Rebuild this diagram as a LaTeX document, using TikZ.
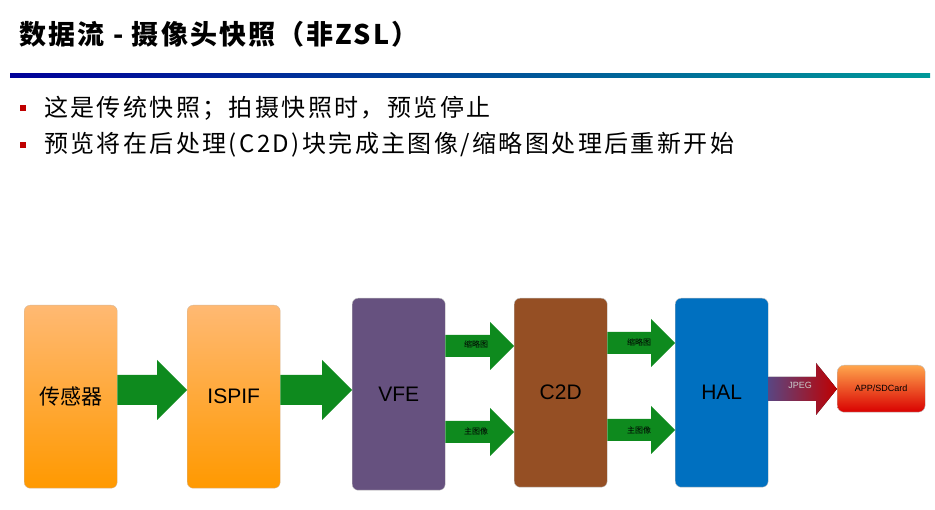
\documentclass[tikz,border=0pt]{standalone}
\usepackage{fontspec}
\setmainfont{Liberation Sans}
\newfontfamily\cjk{Noto Sans CJK SC}
\newfontfamily\cjkw[LetterSpace=10]{Noto Sans CJK SC}
\newfontfamily\cjkt[LetterSpace=8]{Noto Sans CJK SC}
\usetikzlibrary{calc}
\definecolor{grn}{HTML}{0E8A1E}
\tikzset{
 blk/.style={rounded corners=6pt,minimum width=93pt,anchor=north west,inner sep=0pt,font=\fontsize{21}{21}\selectfont},
 lbl/.style={font=\cjk\fontsize{8}{8}\selectfont,inner sep=0pt},
 bul/.style={anchor=west,font=\cjkw\fontsize{24}{24}\selectfont,inner sep=0pt},
}
\newcommand{\garrow}[7]{% from to y shafthalf headhalf headlen color-spec
 \fill[#7] ($(#1.east |- 0,#3)+(0,#4)$) -- ($(#2.west |- 0,#3)+(-#6,#4)$) -- ($(#2.west |- 0,#3)+(-#6,#5)$) -- (#2.west |- 0,#3) -- ($(#2.west |- 0,#3)+(-#6,-#5)$) -- ($(#2.west |- 0,#3)+(-#6,-#4)$) -- ($(#1.east |- 0,#3)+(0,-#4)$) -- cycle;}
\begin{document}
\begin{tikzpicture}[x=1pt,y=-1pt]
\useasboundingbox (0,0) rectangle (935,510);
\node[anchor=west,font=\cjkt\bfseries\fontsize{27}{27}\selectfont] (title) at (16,34) {数据流 - 摄像头快照（非ZSL）};
\shade[left color=blue!60!black,right color=teal!80!cyan] (10,74) rectangle (930,78);
\fill[red!75!black] (20,105) rectangle (26,111);
\node[bul] (b1) at (44,108) {这是传统快照；拍摄快照时，预览停止};
\fill[red!75!black] (20,142) rectangle (26,148);
\node[bul] (b2) at (44,145) {预览将在后处理(C2D)块完成主图像/缩略图处理后重新开始};
\node[blk,minimum height=183pt,top color=orange!55,bottom color=orange!80!yellow,draw=orange!60!black!40] (s) at (24,305) {\cjk 传感器};
\node[blk,minimum height=183pt,top color=orange!55,bottom color=orange!80!yellow,draw=orange!60!black!40] (i) at (187,305) {ISPIF};
\node[blk,minimum height=192pt,fill={rgb,255:red,102;green,81;blue,127},draw=gray!50] (v) at (352,298) {VFE};
\node[blk,minimum height=189pt,fill={rgb,255:red,149;green,79;blue,36},draw=gray!50] (c) at (514,298) {C2D};
\node[blk,minimum height=189pt,fill={rgb,255:red,0;green,112;blue,192},draw=gray!50] (h) at (675,298) {HAL};
\node[rounded corners=7pt,minimum width=88pt,minimum height=47pt,anchor=north west,top color=orange!70,bottom color=red!85!black,draw=gray!50,font=\fontsize{9}{9}\selectfont] (a) at (837,365) {APP/SDCard};
\garrow{s}{i}{390}{15}{30}{30}{grn}
\garrow{i}{v}{390}{15}{30}{30}{grn}
\garrow{v}{c}{346}{11}{24}{24}{grn}
\garrow{v}{c}{432}{11}{24}{24}{grn}
\garrow{c}{h}{343}{11}{24}{24}{grn}
\garrow{c}{h}{430}{11}{24}{24}{grn}
\garrow{h}{a}{389}{12}{26}{21}{left color={rgb,255:red,90;green,70;blue,130},right color=red!75!black}
\node[lbl] (l1) at (476,344) {缩略图};
\node[lbl] (l2) at (476,431) {主图像};
\node[lbl] (l3) at (639,342) {缩略图};
\node[lbl] (l4) at (639,430) {主图像};
\node[font=\fontsize{9}{9}\selectfont,inner sep=0pt,white!80!black] (l5) at (800,385) {JPEG};
\end{tikzpicture}
\end{document}
